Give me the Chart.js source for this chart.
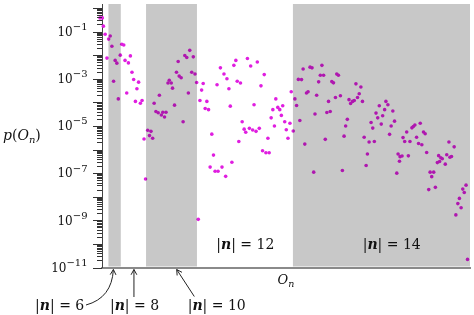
<!DOCTYPE html>
<html>
<head>
<meta charset="utf-8">
<script src="https://cdn.jsdelivr.net/npm/chart.js@4.4.1/dist/chart.umd.min.js"></script>
<style>
  html, body { margin: 0; padding: 0; background: #fff; }
  #wrap { width: 474px; height: 315px; }
</style>
</head>
<body>
<div id="wrap"><canvas id="chart"></canvas></div>
<script>
// observables O_n along the x axis, grouped by |n|; p = probability
const xLow = [-2, 0.3, 1.4, 3.2, 5, 6.7, 8.3, 10, 11.7, 13.3, 15, 16.5, 18.5, 20, 22, 23.3, 25, 26.7, 28.7, 30.3, 32, 33.8, 35.3, 37, 38.8, 40.5, 42.5, 44];
const pLow = [3.8e-1, 3.8e-1, 1.7e-1, 7.7e-2, 7.5e-3, 4.8e-2, 6.5e-2, 2.4e-2, 7.9e-4, 6.0e-3, 4.6e-3, 1.4e-4, 1.0e-2, 2.9e-2, 2.7e-2, 6.0e-3, 2.5e-4, 4.7e-3, 9.3e-3, 1.9e-3, 9.3e-4, 1.1e-4, 3.8e-4, 7.2e-4, 9.2e-5, 1.2e-4, 2.8e-6, 5.6e-8];

const x10 = [46.2, 48, 49.5, 51.2, 52.7, 54.5, 56.8, 58, 60, 61.5, 63.2, 64.7, 66.7, 68, 70, 71.3, 73.3, 75.3, 77, 78, 80, 82, 83.7, 85.7, 87.3, 88.7, 90.7, 92.3, 94, 95.7];
const p10 = [6.6e-6, 3.9e-6, 5.9e-6, 3.0e-6, 9.2e-5, 4.1e-5, 3.6e-5, 2.0e-4, 2.9e-5, 3.8e-5, 2.4e-5, 3.8e-5, 6.6e-4, 8.7e-4, 6.6e-4, 4.0e-4, 7.6e-5, 1.9e-3, 5.4e-3, 1.3e-3, 1.1e-3, 1.5e-5, 9.7e-3, 8.0e-3, 2.5e-4, 1.6e-2, 1.9e-3, 8.5e-3, 1.6e-3, 6.9e-4];

const x12 = [97.3, 99, 100.7, 102.3, 104.3, 106, 107.7, 109.3, 111, 112.7, 114.3, 116.3, 117.3, 119.7, 121.3, 123.3, 125, 126.3, 128.3, 129.7, 131.3, 133.3, 135.3, 136.7, 138.3, 140, 141.7, 143.7, 145.3, 147, 149, 150.3, 152.3, 153.7, 155.7, 157, 159, 160.7, 162.3, 164, 165.7, 167.7, 169, 171, 172.7, 174.3, 175.7, 177.7, 179.7, 181.3, 182.7, 184.7, 186.3, 188, 190, 191.3, 193.3];
const p12 = [1.1e-9, 1.2e-4, 3.3e-4, 6.3e-4, 5.5e-5, 1.1e-4, 4.9e-5, 1.8e-7, 4.5e-6, 5.8e-7, 1.2e-7, 5.6e-4, 1.2e-7, 2.9e-3, 1.8e-7, 1.6e-3, 7.3e-8, 1.0e-3, 3.8e-4, 6.9e-5, 2.9e-7, 3.7e-3, 6.0e-3, 7.9e-4, 2.2e-6, 6.6e-4, 1.5e-5, 7.3e-6, 5.4e-6, 7.2e-3, 7.9e-6, 3.5e-3, 6.7e-6, 7.9e-5, 5.9e-6, 5.1e-3, 7.9e-6, 5.0e-4, 8.9e-7, 1.5e-3, 7.3e-7, 3.0e-6, 7.3e-7, 2.2e-5, 4.9e-5, 1.0e-5, 1.4e-4, 6.1e-5, 4.9e-5, 2.8e-5, 7.2e-5, 1.5e-5, 6.9e-6, 3.0e-6, 1.3e-5, 2.8e-4, 6.1e-6];

const x14 = [195, 196.7, 198.5, 200, 201.7, 203.3, 205, 206.7, 208.3, 210.3, 212.3, 214, 215.3, 217, 219, 220.7, 222.3, 224, 225.7, 227.3, 229, 230.7, 232.3, 234, 236, 237.3, 239, 241, 243, 244.7, 246.3, 248, 249.7, 251.3, 253.3, 255, 256.7, 258.3, 260, 261.7, 263.3, 265, 267, 268.3, 270, 272, 273.7, 275.3, 277, 278.7, 280.3, 282.3, 283.7, 285.7, 287, 289, 290.7, 292.3, 294, 295.7, 298, 299.3, 300.7, 301.3, 303.3, 304.3, 306, 308, 309.7, 311.3, 313.3, 314.7, 316.3, 318, 320, 321.7, 323.3, 325, 326.7, 328.2, 330.3, 331.7, 333.3, 335.3, 337, 339, 340.3, 341.3, 342.5, 344, 347, 348.5, 350.7, 351.7, 353.3, 356, 357.7, 359.7, 361.3, 363, 364.7, 366.2, 368, 369.5];
const p14 = [1.4e-4, 7.4e-5, 9.4e-4, 1.7e-5, 9.2e-4, 2.6e-3, 1.7e-6, 2.5e-4, 2.8e-4, 3.1e-3, 2.9e-3, 1.1e-7, 3.2e-5, 2.0e-4, 7.4e-4, 1.4e-3, 3.7e-3, 1.4e-3, 2.7e-6, 3.7e-5, 1.1e-4, 4.1e-5, 7.6e-4, 6.7e-4, 1.6e-4, 1.6e-3, 1.4e-3, 1.9e-4, 1.3e-7, 3.7e-6, 1.0e-5, 1.9e-5, 1.3e-4, 8.9e-5, 1.1e-4, 1.2e-4, 6.1e-4, 1.6e-4, 2.3e-4, 4.5e-4, 1.1e-4, 3.3e-6, 2.1e-7, 6.5e-7, 2.1e-6, 1.4e-5, 8.1e-6, 2.2e-6, 3.5e-5, 2.2e-5, 7.2e-5, 1.2e-5, 2.7e-5, 4.9e-5, 1.1e-4, 7.9e-5, 4.4e-6, 1.0e-5, 4.3e-5, 1.6e-5, 1.0e-7, 6.5e-7, 3.2e-7, 5.0e-7, 5.3e-7, 3.2e-6, 2.2e-6, 5.5e-6, 5.4e-7, 2.2e-6, 8.3e-6, 9.5e-6, 1.1e-5, 3.3e-6, 1.8e-6, 1.3e-5, 1.6e-6, 5.5e-6, 4.7e-6, 7.5e-7, 2.0e-8, 1.1e-7, 7.1e-8, 1.1e-7, 2.5e-8, 2.8e-7, 5.5e-7, 3.1e-7, 4.5e-7, 4.1e-7, 2.4e-7, 6.0e-7, 2.1e-6, 4.7e-7, 5.1e-7, 1.3e-6, 1.7e-9, 5.1e-9, 8.5e-9, 3.4e-9, 2.1e-8, 1.5e-8, 3.1e-8, 2.2e-11];

// shaded ranges of O_n (|n| = 6, 10, 14)
const bandFrom = [6.5, 44.5, 193];
const bandTo = [19, 96, 372];

// arrows under the axis: |n| label and where it points
const arrowNorm = ['6', '8', '10'];
const arrowAt = [11.5, 32.3, 75.5];

const yTickValues = [1e-11, 1e-9, 1e-7, 1e-5, 1e-3, 1e-1];
const yTickExp = ['\u221211', '\u22129', '\u22127', '\u22125', '\u22123', '\u22121'];

const SERIF = '"DejaVu Serif", serif';

function pts(xs, ps) {
  return xs.map((x, i) => ({ x: x, y: ps[i] }));
}

function drawRun(ctx, parts, x, y, align) {
  let w = 0;
  parts.forEach(p => { ctx.font = p.f; w += ctx.measureText(p.t).width; });
  let cx = align === 'center' ? x - w / 2 : (align === 'right' ? x - w : x);
  parts.forEach(p => {
    ctx.font = p.f;
    ctx.fillText(p.t, cx, y + (p.dy || 0));
    cx += ctx.measureText(p.t).width;
  });
}

function normParts(v) {
  return [
    { t: '|', f: '14px ' + SERIF },
    { t: 'n', f: 'bold italic 14px ' + SERIF },
    { t: '| = ' + v, f: '14px ' + SERIF }
  ];
}

function arrowHead(ctx, tx, ty, fx, fy) {
  const ang = Math.atan2(ty - fy, tx - fx);
  ctx.beginPath();
  ctx.moveTo(tx - 6 * Math.cos(ang - 0.5), ty - 6 * Math.sin(ang - 0.5));
  ctx.lineTo(tx, ty);
  ctx.lineTo(tx - 6 * Math.cos(ang + 0.5), ty - 6 * Math.sin(ang + 0.5));
  ctx.stroke();
}

const decor = {
  id: 'decor',
  afterDatasetsDraw(chart) {
    const { ctx, chartArea: a, scales: { x } } = chart;
    ctx.save();
    ctx.fillStyle = 'rgba(0,0,0,0.215)';
    bandFrom.forEach((b, i) => {
      const l = x.getPixelForValue(b);
      const r = Math.min(x.getPixelForValue(bandTo[i]), a.right);
      ctx.fillRect(l, a.top, r - l, a.bottom - a.top - 1);
    });
    ctx.restore();
  },
  afterDraw(chart) {
    const { ctx, chartArea: a, scales: { x, y } } = chart;
    ctx.save();

    // log ticks on the left axis
    ctx.strokeStyle = '#333';
    ctx.lineWidth = 1;
    for (let e = -11; e <= 0; e++) {
      for (let k = 1; k <= 9; k++) {
        const v = k * Math.pow(10, e);
        if (v > y.max) continue;
        const py = Math.round(y.getPixelForValue(v)) + 0.5;
        const len = k === 1 ? 9 : 5;
        ctx.beginPath();
        ctx.moveTo(a.left - len, py);
        ctx.lineTo(a.left, py);
        ctx.stroke();
      }
    }

    // tick labels 10^n
    ctx.fillStyle = '#111';
    ctx.textBaseline = 'alphabetic';
    y.ticks.forEach((t, i) => {
      const py = y.getPixelForValue(t.value);
      ctx.font = '10px ' + SERIF;
      const ew = ctx.measureText(yTickExp[i]).width;
      ctx.fillText(yTickExp[i], 87.5 - ew, py - 1.5);
      ctx.font = '12px ' + SERIF;
      const bw = ctx.measureText('10').width;
      ctx.fillText('10', 87.5 - ew - bw, py + 4.3);
    });

    // axis titles
    drawRun(ctx, [
      { t: 'p', f: 'italic 14px ' + SERIF },
      { t: '(', f: '14px ' + SERIF },
      { t: 'O', f: 'italic 14px ' + SERIF },
      { t: 'n', f: 'italic 10px ' + SERIF, dy: 3 },
      { t: ')', f: '14px ' + SERIF }
    ], 3, 139.5, 'left');
    drawRun(ctx, [
      { t: 'O', f: 'italic 13px ' + SERIF },
      { t: 'n', f: 'italic 9.5px ' + SERIF, dy: 3 }
    ], 277.5, 283.5, 'left');

    // band labels inside the plot
    drawRun(ctx, normParts('12'), 245.3, 248.7, 'center');
    drawRun(ctx, normParts('14'), 391.7, 248.7, 'center');

    // labels and arrows below the axis
    const labelX = [59.7, 134.5, 216.7];
    labelX.forEach((lx, i) => drawRun(ctx, normParts(arrowNorm[i]), lx, 309.5, 'center'));

    ctx.strokeStyle = '#222';
    ctx.lineWidth = 1;
    const tipY = a.bottom + 2;
    const t6 = x.getPixelForValue(arrowAt[0]);
    ctx.beginPath();
    ctx.moveTo(86, 305);
    ctx.quadraticCurveTo(t6 - 1.5, 298, t6, tipY);
    ctx.stroke();
    arrowHead(ctx, t6, tipY, t6 - 1.5, 298);

    const t8 = x.getPixelForValue(arrowAt[1]);
    ctx.beginPath();
    ctx.moveTo(t8, 297);
    ctx.lineTo(t8, tipY);
    ctx.stroke();
    arrowHead(ctx, t8, tipY, t8, 297);

    const t10 = x.getPixelForValue(arrowAt[2]);
    ctx.beginPath();
    ctx.moveTo(194.3, 296.5);
    ctx.lineTo(t10, tipY);
    ctx.stroke();
    arrowHead(ctx, t10, tipY, 194.3, 296.5);

    ctx.restore();
  }
};

const dotColor = '#e01ee0';

new Chart(document.getElementById('chart'), {
  type: 'scatter',
  data: {
    datasets: [
      { label: '|n| <= 8', data: pts(xLow, pLow) },
      { label: '|n| = 10', data: pts(x10, p10) },
      { label: '|n| = 12', data: pts(x12, p12) },
      { label: '|n| = 14', data: pts(x14, p14) }
    ].map(d => Object.assign(d, {
      backgroundColor: dotColor,
      borderWidth: 0,
      pointRadius: 1.8,
      clip: false
    }))
  },
  options: {
    responsive: true,
    maintainAspectRatio: false,
    animation: false,
    devicePixelRatio: 1,
    layout: { padding: { top: 0, right: 0, bottom: 47.5, left: 0 } },
    plugins: {
      legend: { display: false },
      tooltip: { enabled: false }
    },
    scales: {
      x: {
        type: 'linear',
        min: 0,
        max: 372,
        ticks: { display: false },
        grid: { display: false, drawTicks: false },
        border: { display: true, color: '#8a8a8a', width: 2 },
        afterFit: s => { s.height = 0; s.paddingLeft = 0; s.paddingRight = 0; }
      },
      y: {
        type: 'logarithmic',
        min: 1e-11,
        max: 1.476,
        afterBuildTicks: s => { s.ticks = yTickValues.map(v => ({ value: v })); },
        ticks: { display: false },
        grid: { display: false, drawTicks: false },
        border: { display: true, color: '#444', width: 1 },
        afterFit: s => { s.width = 102; s.paddingTop = 0; s.paddingBottom = 0; }
      }
    }
  },
  plugins: [decor]
});
</script>
</body>
</html>
